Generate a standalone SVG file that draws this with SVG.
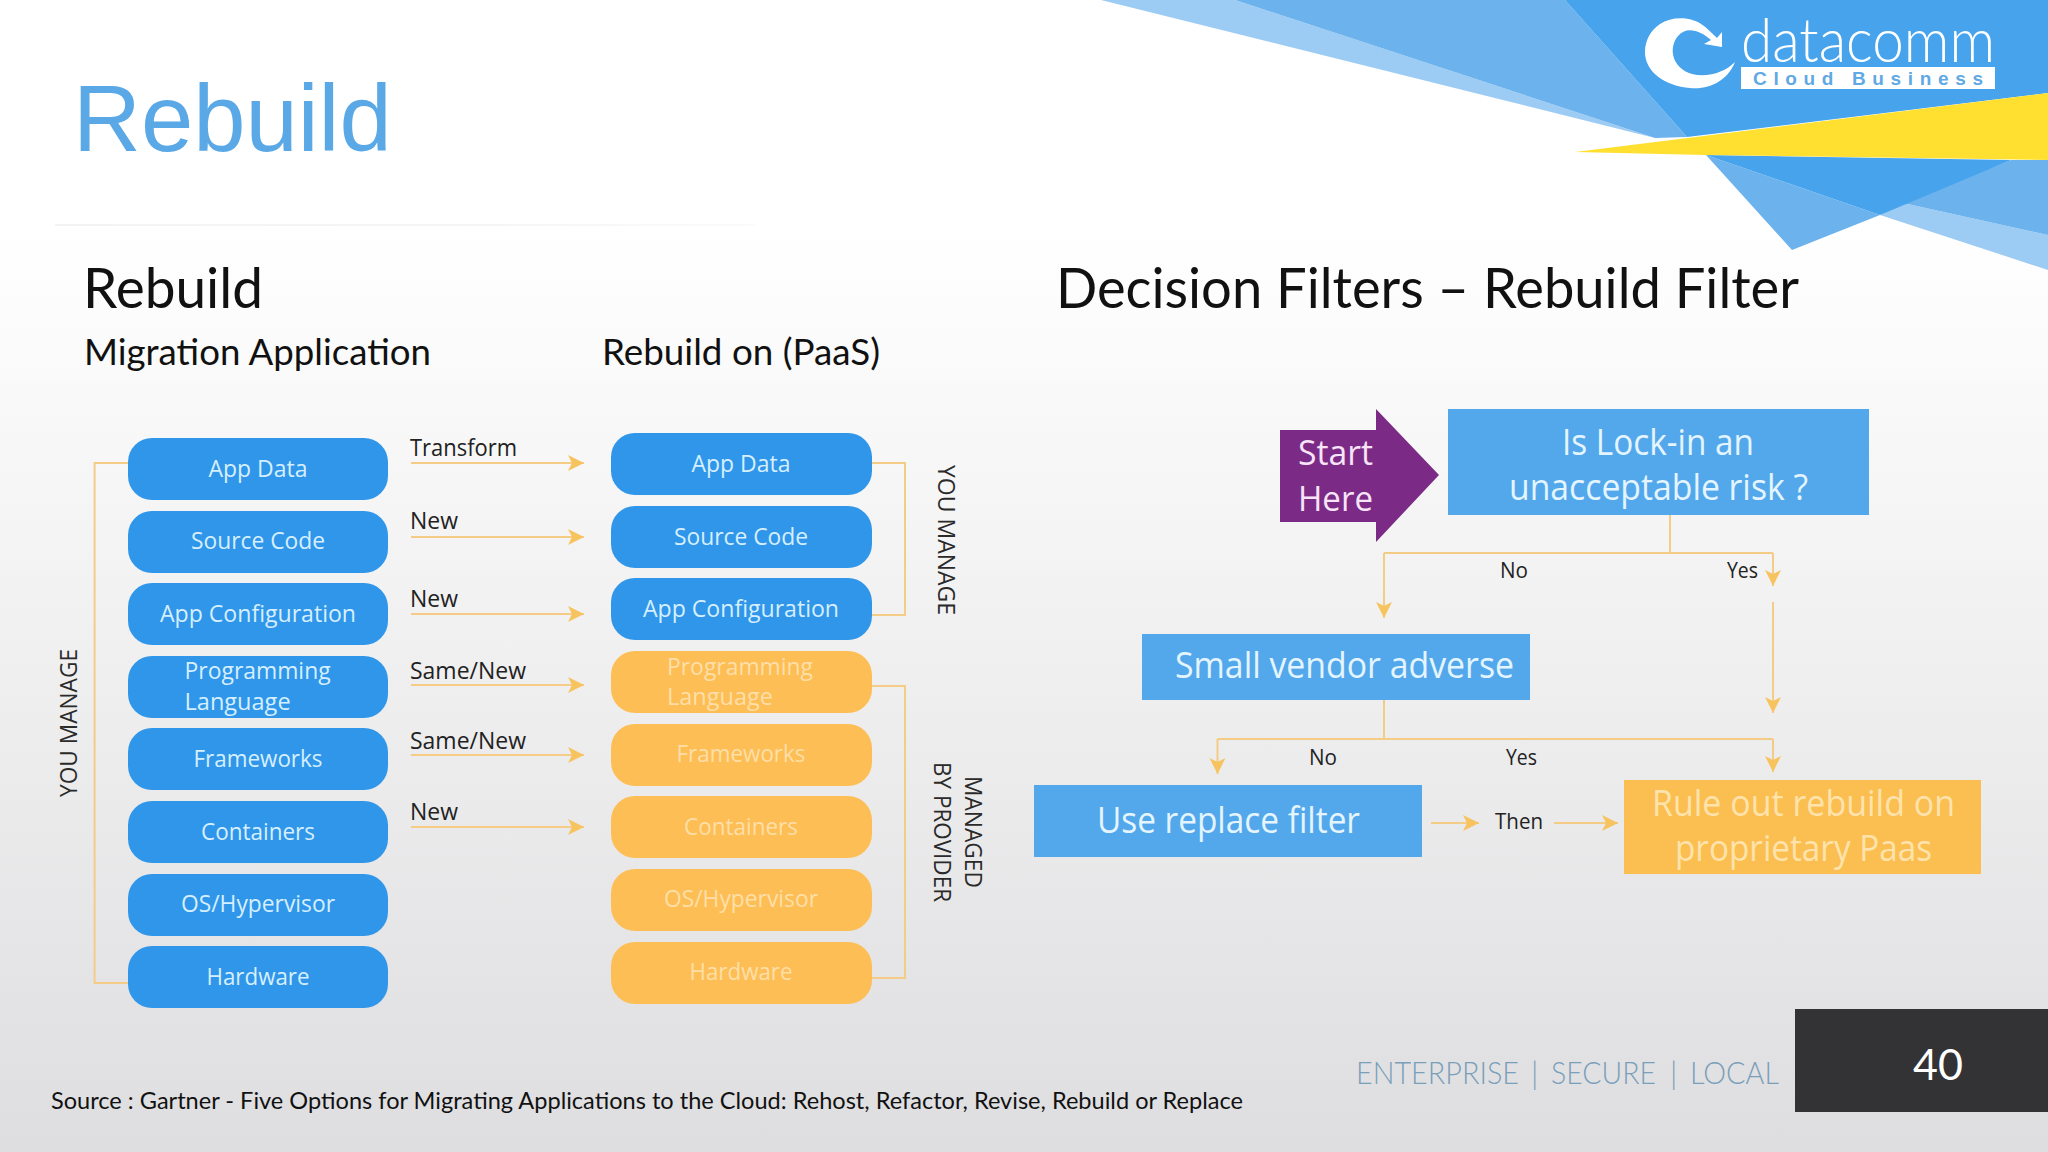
<svg xmlns="http://www.w3.org/2000/svg" width="2048" height="1152" viewBox="0 0 2048 1152">
<style>
.head{font-family:"Lato","Liberation Sans",sans-serif;fill:#111}
.pill{font-family:"Open Sans","Noto Sans",sans-serif;font-size:24px}
.bt{fill:#d6efff;text-anchor:middle}
.ot{fill:#ffdfa8;text-anchor:middle}
.bl{fill:#2f96ea}
.or{fill:#fdbe55}
.lab{font-family:"Open Sans","Noto Sans",sans-serif;font-size:24px;fill:#222}
.rot{font-family:"Open Sans","Noto Sans",sans-serif;font-size:24px;fill:#2a2a2a;text-anchor:middle}
.flow{font-family:"Open Sans","Noto Sans",sans-serif;font-size:36px;fill:#e4f5ff}
.small{font-family:"Open Sans","Noto Sans",sans-serif;font-size:22px;fill:#222}
.tag{font-family:Lato,"Liberation Sans",sans-serif;font-size:31px;font-weight:300;fill:#7a9fba}
.c{fill:none;stroke:#f5cc85;stroke-width:2}
.a{fill:none;stroke:#f5cc85;stroke-width:2;marker-end:url(#ah)}
</style>
<defs>
<linearGradient id="bg" x1="0" y1="0" x2="0" y2="1"><stop offset="0.2" stop-color="#ffffff"/><stop offset="1" stop-color="#dedee0"/></linearGradient>
<linearGradient id="rule" x1="0" y1="0" x2="1" y2="0"><stop offset="0" stop-color="#f3f3f5"/><stop offset="0.6" stop-color="#f5f5f7"/><stop offset="1" stop-color="#fbfbfc"/></linearGradient>
<marker id="ah" markerUnits="userSpaceOnUse" markerWidth="18" markerHeight="18" refX="17" refY="9" orient="auto"><path d="M1,1 L17,9 L1,17 L5,9 Z" fill="#f7c35f"/></marker>
</defs>
<rect width="2048" height="1152" fill="url(#bg)"/>
<rect x="55" y="224" width="700" height="2" fill="url(#rule)"/>
<g id="corner-art">
<polygon points="1101,0 1235,0 1655,138" fill="#9ccbf3"/>
<polygon points="1235,0 1565,0 1687,137 1655,138" fill="#6cb3ed"/>
<polygon points="1565,0 2048,0 2048,93 1687,137" fill="#46a3ec"/>
<polygon points="1880,215 1903,203 2048,235 2048,270" fill="#9ccbf3"/>
<polygon points="2011,160 2048,160 2048,235 1903,203" fill="#6cb3ed"/>
<polygon points="1706,155 1880,215 1792,250" fill="#6cb3ed"/>
<polygon points="1706,155 2011,160 1880,215" fill="#46a3ec"/>
<polygon points="1575,152 2048,93 2048,160 1706,155" fill="#ffe030"/>
</g>
<g id="logo">
<path d="M1660,24 C1672,16 1692,16 1704,26 C1710,31 1715,36 1717,38 L1722,32 L1722,47 L1704,44 L1711,40 C1700,30 1686,26 1678,36 C1668,48 1672,68 1692,74 C1708,78 1725,72 1735,62 C1728,80 1710,90 1690,88 C1665,86 1645,72 1645,52 C1645,40 1651,30 1660,24 Z" fill="#fff"/>
<rect x="1741" y="67" width="254" height="22" fill="#fff"/>
<text x="1741" y="62" font-family="Lato,'Liberation Sans',sans-serif" font-size="62" font-weight="300" fill="#fff" textLength="254" lengthAdjust="spacingAndGlyphs">datacomm</text>
<text x="1753" y="85" font-family="'Liberation Sans',sans-serif" font-size="19" font-weight="700" fill="#5fa9e4" textLength="230">Cloud Business</text>
</g>
<text id="title" x="73" y="151" font-family="'Liberation Sans',Arial,sans-serif" font-size="94" fill="#5aa9e6">Rebuild</text>
<text class="head" x="83" y="308" font-size="56" textLength="180" lengthAdjust="spacingAndGlyphs">Rebuild</text>
<text class="head" x="1056" y="308" font-size="56" textLength="743" lengthAdjust="spacingAndGlyphs">Decision Filters – Rebuild Filter</text>
<text class="head" x="84" y="365" font-size="37" textLength="347" lengthAdjust="spacingAndGlyphs">Migration Application</text>
<text class="head" x="602" y="365" font-size="37" textLength="278" lengthAdjust="spacingAndGlyphs">Rebuild on (PaaS)</text>

<g id="connectors">
<path class="c" d="M128,463 H94.6 V983 H128"/>
<path class="c" d="M872,463 H905 V615 H872"/>
<path class="c" d="M872,686 H905 V978 H872"/>
<path class="a" d="M411,463 H584"/>
<path class="a" d="M411,537 H584"/>
<path class="a" d="M411,614 H584"/>
<path class="a" d="M411,685 H584"/>
<path class="a" d="M411,755 H584"/>
<path class="a" d="M411,827 H584"/>
<path class="c" d="M1670,515 V553"/>
<path class="c" d="M1384,553 H1773"/>
<path class="a" d="M1384,553 V618"/>
<path class="a" d="M1773,553 V586"/>
<path class="a" d="M1773,602 V713"/>
<path class="c" d="M1384,700 V739"/>
<path class="c" d="M1217.5,739 H1773"/>
<path class="a" d="M1217.5,739 V774"/>
<path class="a" d="M1773,739 V772"/>
<path class="a" d="M1431,823 H1479"/>
<path class="a" d="M1554,823 H1618"/>
</g>

<g id="connector-labels">
<text class="lab" x="410" y="456" textLength="107" lengthAdjust="spacingAndGlyphs">Transform</text>
<text class="lab" x="410" y="529" textLength="48" lengthAdjust="spacingAndGlyphs">New</text>
<text class="lab" x="410" y="607" textLength="48" lengthAdjust="spacingAndGlyphs">New</text>
<text class="lab" x="410" y="679" textLength="116" lengthAdjust="spacingAndGlyphs">Same/New</text>
<text class="lab" x="410" y="749" textLength="116" lengthAdjust="spacingAndGlyphs">Same/New</text>
<text class="lab" x="410" y="820" textLength="48" lengthAdjust="spacingAndGlyphs">New</text>
<text class="small" x="1500" y="578" textLength="28" lengthAdjust="spacingAndGlyphs">No</text>
<text class="small" x="1727" y="578" textLength="31" lengthAdjust="spacingAndGlyphs">Yes</text>
<text class="small" x="1309" y="765" textLength="28" lengthAdjust="spacingAndGlyphs">No</text>
<text class="small" x="1506" y="765" textLength="31" lengthAdjust="spacingAndGlyphs">Yes</text>
<text class="small" x="1495" y="829" textLength="48" lengthAdjust="spacingAndGlyphs">Then</text>
</g>

<text class="rot" transform="translate(77,723) rotate(-90)" textLength="148" lengthAdjust="spacingAndGlyphs">YOU MANAGE</text>
<text class="rot" transform="translate(938,540) rotate(90)" textLength="150" lengthAdjust="spacingAndGlyphs">YOU MANAGE</text>
<text class="rot" transform="translate(965,832) rotate(90)" textLength="112" lengthAdjust="spacingAndGlyphs">MANAGED</text>
<text class="rot" transform="translate(934,832) rotate(90)" textLength="140" lengthAdjust="spacingAndGlyphs">BY PROVIDER</text>

<g id="l1"><rect class="bl" x="128" y="438" width="260" height="62" rx="24"/><text class="pill bt" x="258" y="477" textLength="99" lengthAdjust="spacingAndGlyphs">App Data</text></g>
<g id="l2"><rect class="bl" x="128" y="511" width="260" height="62" rx="24"/><text class="pill bt" x="258" y="549" textLength="134" lengthAdjust="spacingAndGlyphs">Source Code</text></g>
<g id="l3"><rect class="bl" x="128" y="583" width="260" height="62" rx="24"/><text class="pill bt" x="258" y="622" textLength="196" lengthAdjust="spacingAndGlyphs">App Configuration</text></g>
<g id="l4"><rect class="bl" x="128" y="656" width="260" height="62" rx="24"/><text class="pill" fill="#d6efff" x="184.6" y="679" textLength="146" lengthAdjust="spacingAndGlyphs">Programming</text><text class="pill" fill="#d6efff" x="184.6" y="710" textLength="106" lengthAdjust="spacingAndGlyphs">Language</text></g>
<g id="l5"><rect class="bl" x="128" y="728" width="260" height="62" rx="24"/><text class="pill bt" x="258" y="767" textLength="129" lengthAdjust="spacingAndGlyphs">Frameworks</text></g>
<g id="l6"><rect class="bl" x="128" y="801" width="260" height="62" rx="24"/><text class="pill bt" x="258" y="840" textLength="114" lengthAdjust="spacingAndGlyphs">Containers</text></g>
<g id="l7"><rect class="bl" x="128" y="874" width="260" height="62" rx="24"/><text class="pill bt" x="258" y="912" textLength="154" lengthAdjust="spacingAndGlyphs">OS/Hypervisor</text></g>
<g id="l8"><rect class="bl" x="128" y="946" width="260" height="62" rx="24"/><text class="pill bt" x="258" y="985" textLength="103" lengthAdjust="spacingAndGlyphs">Hardware</text></g>

<g id="r1"><rect class="bl" x="611" y="433" width="261" height="62" rx="24"/><text class="pill bt" x="741" y="472" textLength="99" lengthAdjust="spacingAndGlyphs">App Data</text></g>
<g id="r2"><rect class="bl" x="611" y="506" width="261" height="62" rx="24"/><text class="pill bt" x="741" y="545" textLength="134" lengthAdjust="spacingAndGlyphs">Source Code</text></g>
<g id="r3"><rect class="bl" x="611" y="578" width="261" height="62" rx="24"/><text class="pill bt" x="741" y="617" textLength="196" lengthAdjust="spacingAndGlyphs">App Configuration</text></g>
<g id="r4"><rect class="or" x="611" y="651" width="261" height="62" rx="24"/><text class="pill" fill="#ffdfa8" x="667" y="675" textLength="146" lengthAdjust="spacingAndGlyphs">Programming</text><text class="pill" fill="#ffdfa8" x="667" y="705" textLength="106" lengthAdjust="spacingAndGlyphs">Language</text></g>
<g id="r5"><rect class="or" x="611" y="724" width="261" height="62" rx="24"/><text class="pill ot" x="741" y="762" textLength="129" lengthAdjust="spacingAndGlyphs">Frameworks</text></g>
<g id="r6"><rect class="or" x="611" y="796" width="261" height="62" rx="24"/><text class="pill ot" x="741" y="835" textLength="114" lengthAdjust="spacingAndGlyphs">Containers</text></g>
<g id="r7"><rect class="or" x="611" y="869" width="261" height="62" rx="24"/><text class="pill ot" x="741" y="907" textLength="154" lengthAdjust="spacingAndGlyphs">OS/Hypervisor</text></g>
<g id="r8"><rect class="or" x="611" y="942" width="261" height="62" rx="24"/><text class="pill ot" x="741" y="980" textLength="103" lengthAdjust="spacingAndGlyphs">Hardware</text></g>

<g id="start">
<polygon points="1280,430 1376,430 1376,409 1439,475 1376,542 1376,522 1280,522" fill="#7b2a86"/>
<text x="1298" y="465" font-family="'Open Sans','Noto Sans',sans-serif" font-size="34" fill="#f7e4f7" textLength="75" lengthAdjust="spacingAndGlyphs">Start</text>
<text x="1298" y="511" font-family="'Open Sans','Noto Sans',sans-serif" font-size="34" fill="#f7e4f7" textLength="75" lengthAdjust="spacingAndGlyphs">Here</text>
</g>
<g id="lockin">
<rect x="1448" y="409" width="421" height="106" fill="#53a8ec"/>
<text class="flow" x="1562" y="455" textLength="192" lengthAdjust="spacingAndGlyphs">Is Lock-in an</text>
<text class="flow" x="1509" y="500" textLength="299" lengthAdjust="spacingAndGlyphs">unacceptable risk ?</text>
</g>
<g id="vendor">
<rect x="1142" y="634" width="388" height="66" fill="#53a8ec"/>
<text class="flow" x="1175" y="678" textLength="339" lengthAdjust="spacingAndGlyphs">Small vendor adverse</text>
</g>
<g id="replace">
<rect x="1034" y="785" width="388" height="72" fill="#53a8ec"/>
<text class="flow" x="1097" y="833" textLength="263" lengthAdjust="spacingAndGlyphs">Use replace filter</text>
</g>
<g id="ruleout">
<rect x="1624" y="780" width="357" height="94" fill="#fbbe50"/>
<text class="flow" style="fill:#ffe3ad" x="1652" y="816" textLength="303" lengthAdjust="spacingAndGlyphs">Rule out rebuild on</text>
<text class="flow" style="fill:#ffe3ad" x="1675" y="861" textLength="257" lengthAdjust="spacingAndGlyphs">proprietary Paas</text>
</g>

<text id="source" x="51" y="1109" font-family="Lato,'Liberation Sans',sans-serif" font-size="24" fill="#111" textLength="1192" lengthAdjust="spacingAndGlyphs">Source : Gartner - Five Options for Migrating Applications to the Cloud: Rehost, Refactor, Revise, Rebuild or Replace</text>
<g id="tagline">
<text class="tag" x="1356" y="1084" textLength="163" lengthAdjust="spacingAndGlyphs">ENTERPRISE</text>
<text class="tag" x="1531" y="1084">|</text>
<text class="tag" x="1551" y="1084" textLength="105" lengthAdjust="spacingAndGlyphs">SECURE</text>
<text class="tag" x="1670" y="1084">|</text>
<text class="tag" x="1690" y="1084" textLength="89" lengthAdjust="spacingAndGlyphs">LOCAL</text>
</g>
<g id="page">
<rect x="1795" y="1009" width="253" height="103" fill="#333335"/>
<text x="1938" y="1080" font-family="Lato,'Liberation Sans',sans-serif" font-size="43" fill="#fff" text-anchor="middle">40</text>
</g>
</svg>
